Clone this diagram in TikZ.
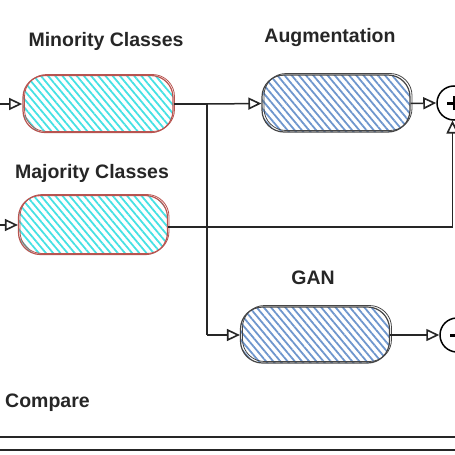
\documentclass[tikz,border=0pt]{standalone}
\usepackage{fontspec}
\setmainfont{Liberation Sans}
\usetikzlibrary{arrows.meta,patterns.meta}
\definecolor{hatchcyan}{RGB}{70,225,228}
\definecolor{hatchblue}{RGB}{110,150,205}
\definecolor{redline}{RGB}{184,84,80}
\definecolor{grayline}{RGB}{70,70,70}
\tikzset{
  box/.style={rectangle, rounded corners=22pt, minimum width=150pt, minimum height=57pt, line width=1.2pt, inner sep=0pt},
  minbox/.style={box, draw=redline, pattern={Lines[angle=-50,distance=5.5pt,line width=1.8pt]}, pattern color=hatchcyan,
    postaction={draw=redline, line width=0.8pt, transform canvas={shift={(1.5pt,1pt)}}}},
  augbox/.style={box, draw=grayline, pattern={Lines[angle=-50,distance=5.5pt,line width=1.8pt]}, pattern color=hatchblue,
    postaction={draw=grayline, line width=0.8pt, transform canvas={shift={(2pt,1.5pt)}}}},
  lbl/.style={font=\fontsize{19.5}{23}\selectfont\bfseries, text=black!85, inner sep=0pt},
  conn/.style={line width=1.5pt, draw=black!85},
  arr/.style={conn, -{Triangle[open, length=13pt, width=12pt, line width=1.6pt]}},
  opcirc/.style={circle, draw=black, line width=1.5pt, minimum size=34pt, inner sep=0pt}
}
\begin{document}
\begin{tikzpicture}[x=1pt, y=-1pt]
\useasboundingbox (0,0) rectangle (455,455);
\begin{scope}
\clip (0,0) rectangle (455,455);
% labels
\node[lbl] (tmin) at (106,41) {Minority Classes};
\node[lbl] (taug) at (330,38) {Augmentation};
\node[lbl] (tmaj) at (92,173) {Majority Classes};
\node[lbl] (tgan) at (313,278) {GAN};
\node[lbl, anchor=west] (tcmp) at (5,403) {Compare};
% boxes
\node[minbox] (minority) at (98,104) {};
\node[minbox, minimum width=149pt, minimum height=59pt] (majority) at (93,225) {};
\node[augbox, minimum width=148pt] (augment) at (336,103.5) {};
\node[augbox, minimum width=149pt, minimum height=56pt] (gan) at (315,335) {};
% operator circles
\node[opcirc] (plus) at (454,103) {};
\node[opcirc] (minus) at (457,335) {};
\draw[line width=3pt] ([xshift=-7pt]plus.center) -- ([xshift=7pt]plus.center);
\draw[line width=3pt] ([yshift=-7pt]plus.center) -- ([yshift=7pt]plus.center);
\draw[line width=3pt] ([xshift=-7pt]minus.center) -- ([xshift=7pt]minus.center);
% input arrows
\coordinate (inmin) at (0,104);
\coordinate (inmaj) at (0,225);
\draw[arr] (inmin) -- (minority.west);
\draw[arr] (inmaj) -- (majority.west);
% split point
\coordinate (split) at (207,104);
\coordinate (splitdown) at (207,335);
\draw[conn] (minority.east) -- (split);
\draw[arr] (split) -- (augment.west);
\draw[conn] (split) -- (splitdown);
\draw[arr] (splitdown) -- (gan.west);
\draw[arr] (augment.east) -- (plus.west);
\draw[arr] (gan.east) -- (minus.west);
% majority to plus
\coordinate (corner) at (452.5,227);
\draw[conn] (majority.east |- 0,227) -- (corner);
\draw[arr] (corner) -- (452.5,120.5);
% bottom lines
\coordinate (b1l) at (0,437);
\coordinate (b1r) at (455,437);
\coordinate (b2l) at (0,449.5);
\coordinate (b2r) at (455,449.5);
\draw[line width=1.4pt, black!85] (b1l) -- (b1r);
\draw[line width=2pt, black!85] (b2l) -- (b2r);
\end{scope}
\end{tikzpicture}
\end{document}
